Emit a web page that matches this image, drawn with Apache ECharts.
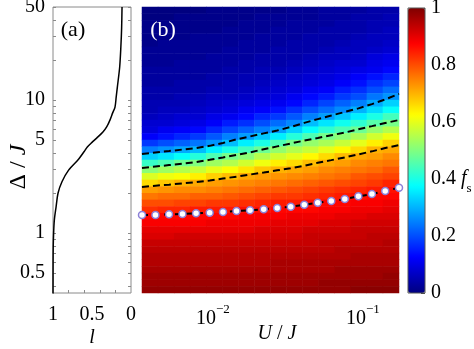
<!DOCTYPE html>
<html><head><meta charset="utf-8">
<script src="https://cdn.jsdelivr.net/npm/echarts@6/dist/echarts.min.js"></script>
<style>html,body{margin:0;padding:0;background:#fff}#c{width:474px;height:349px}</style>
</head><body><div id="c"></div>
<script>
const SERIF = '"Liberation Serif","Times New Roman",serif';
const lg = Math.log10;

// ---- panel (a): l versus Delta/J ----
const aDelta = [0.35,0.6,0.8,1.0,1.25,1.58,2.0,2.43,2.97,3.6,4.1,4.43,4.8,5.17,5.74,6.3,7.06,8.0,8.85,10.5,12.5,17.7,25,35,50];
const aL     = [1.0,0.999,0.997,0.992,0.983,0.96,0.935,0.885,0.80,0.67,0.60,0.56,0.50,0.44,0.36,0.31,0.27,0.235,0.205,0.19,0.175,0.145,0.13,0.12,0.115];

// ---- panel (b): contour lines (Delta/J at each U/J) ----
const uPts = [0.00375,0.00461,0.00568,0.00698,0.0086,0.0106,0.013,0.016,0.0197,0.0243,0.0299,0.0368,0.0453,0.0557,0.0686,0.0844,0.104,0.128,0.157,0.194];
const contour1 = [3.93,4.03,4.13,4.24,4.35,4.52,4.75,5.06,5.32,5.61,5.89,6.27,6.73,7.18,7.64,8.13,8.65,9.31,10.1,11.1];
const contour2 = [3.08,3.16,3.24,3.32,3.41,3.55,3.70,3.86,4.04,4.26,4.48,4.71,4.95,5.18,5.43,5.69,6.03,6.36,6.71,7.07];
const contour3 = [2.22,2.27,2.31,2.36,2.41,2.48,2.57,2.65,2.75,2.85,2.96,3.07,3.20,3.37,3.53,3.70,3.90,4.11,4.35,4.58];
const circleDelta = [1.365,1.365,1.381,1.39,1.406,1.42,1.438,1.463,1.48,1.506,1.541,1.574,1.63,1.69,1.738,1.799,1.887,1.963,2.069,2.19];

// ---- panel (b): f_s map, one column per U/J cell, rows from top (Delta=50) to bottom ----
const fsCols = [
[0.00,0.00,0.01,0.01,0.01,0.01,0.02,0.02,0.02,0.03,0.03,0.03,0.04,0.04,0.05,0.05,0.06,0.08,0.09,0.12,0.18,0.25,0.33,0.43,0.51,0.59,0.66,0.72,0.76,0.80,0.83,0.87,0.88,0.90,0.91,0.93,0.94,0.95,0.95,0.96,0.97,0.97,0.98],
[0.00,0.00,0.01,0.01,0.01,0.02,0.02,0.02,0.02,0.03,0.03,0.03,0.04,0.04,0.05,0.06,0.07,0.08,0.11,0.14,0.20,0.27,0.35,0.45,0.53,0.61,0.68,0.73,0.77,0.80,0.84,0.87,0.88,0.90,0.91,0.93,0.94,0.95,0.95,0.96,0.97,0.97,0.98],
[0.00,0.01,0.01,0.01,0.01,0.02,0.02,0.02,0.03,0.03,0.03,0.04,0.04,0.05,0.05,0.06,0.08,0.09,0.12,0.16,0.22,0.29,0.38,0.48,0.55,0.62,0.70,0.74,0.77,0.81,0.84,0.87,0.88,0.90,0.92,0.93,0.94,0.95,0.95,0.96,0.97,0.97,0.98],
[0.00,0.01,0.01,0.01,0.02,0.02,0.02,0.02,0.03,0.03,0.03,0.04,0.04,0.05,0.06,0.07,0.08,0.10,0.13,0.18,0.24,0.31,0.41,0.50,0.57,0.64,0.71,0.74,0.78,0.81,0.85,0.87,0.88,0.90,0.92,0.93,0.94,0.95,0.95,0.96,0.97,0.97,0.98],
[0.01,0.01,0.01,0.01,0.02,0.02,0.02,0.03,0.03,0.03,0.04,0.04,0.05,0.06,0.07,0.08,0.10,0.12,0.16,0.21,0.27,0.36,0.45,0.53,0.60,0.67,0.72,0.75,0.78,0.82,0.85,0.87,0.89,0.90,0.92,0.93,0.94,0.95,0.95,0.96,0.97,0.97,0.98],
[0.01,0.01,0.01,0.02,0.02,0.02,0.03,0.03,0.03,0.04,0.04,0.05,0.05,0.06,0.08,0.09,0.11,0.15,0.19,0.25,0.31,0.40,0.49,0.55,0.62,0.69,0.73,0.76,0.79,0.82,0.85,0.87,0.89,0.90,0.92,0.93,0.94,0.95,0.95,0.96,0.97,0.97,0.98],
[0.01,0.01,0.02,0.02,0.02,0.03,0.03,0.03,0.04,0.04,0.05,0.05,0.06,0.07,0.09,0.11,0.13,0.17,0.22,0.28,0.36,0.44,0.51,0.58,0.65,0.71,0.74,0.77,0.80,0.83,0.86,0.88,0.89,0.90,0.92,0.93,0.94,0.95,0.95,0.96,0.97,0.97,0.98],
[0.01,0.02,0.02,0.02,0.03,0.03,0.03,0.04,0.04,0.05,0.05,0.06,0.07,0.08,0.10,0.12,0.16,0.20,0.25,0.32,0.40,0.48,0.55,0.61,0.68,0.72,0.75,0.78,0.81,0.84,0.86,0.88,0.89,0.91,0.92,0.93,0.94,0.95,0.95,0.96,0.97,0.97,0.98],
[0.01,0.02,0.02,0.03,0.03,0.03,0.04,0.04,0.04,0.05,0.06,0.07,0.08,0.09,0.11,0.14,0.18,0.23,0.28,0.36,0.45,0.52,0.58,0.64,0.70,0.73,0.76,0.79,0.82,0.85,0.87,0.88,0.90,0.91,0.92,0.93,0.94,0.95,0.96,0.96,0.97,0.97,0.98],
[0.02,0.02,0.03,0.03,0.03,0.04,0.04,0.04,0.05,0.06,0.07,0.08,0.09,0.11,0.13,0.17,0.21,0.26,0.33,0.41,0.49,0.55,0.60,0.66,0.71,0.74,0.77,0.80,0.82,0.85,0.87,0.89,0.90,0.91,0.92,0.93,0.94,0.95,0.96,0.96,0.97,0.97,0.98],
[0.02,0.02,0.03,0.03,0.04,0.04,0.04,0.05,0.06,0.07,0.08,0.09,0.11,0.13,0.16,0.20,0.25,0.31,0.38,0.45,0.52,0.57,0.63,0.69,0.72,0.75,0.78,0.81,0.83,0.86,0.87,0.89,0.90,0.92,0.93,0.93,0.94,0.95,0.96,0.96,0.97,0.97,0.98],
[0.03,0.03,0.03,0.04,0.04,0.04,0.05,0.06,0.07,0.08,0.09,0.10,0.12,0.15,0.19,0.23,0.28,0.35,0.42,0.49,0.54,0.60,0.66,0.71,0.74,0.76,0.79,0.82,0.84,0.87,0.88,0.89,0.91,0.92,0.93,0.94,0.94,0.95,0.96,0.96,0.97,0.98,0.98],
[0.03,0.03,0.04,0.04,0.04,0.05,0.06,0.06,0.08,0.09,0.10,0.12,0.15,0.18,0.22,0.26,0.32,0.39,0.45,0.51,0.57,0.63,0.69,0.72,0.75,0.77,0.80,0.83,0.85,0.87,0.88,0.90,0.91,0.92,0.93,0.94,0.95,0.95,0.96,0.97,0.97,0.98,0.98],
[0.03,0.04,0.04,0.04,0.05,0.06,0.06,0.07,0.08,0.10,0.12,0.14,0.17,0.20,0.25,0.30,0.36,0.42,0.48,0.54,0.60,0.66,0.71,0.74,0.76,0.79,0.81,0.84,0.86,0.88,0.89,0.90,0.92,0.93,0.93,0.94,0.95,0.96,0.96,0.97,0.97,0.98,0.99],
[0.04,0.04,0.05,0.05,0.06,0.06,0.07,0.09,0.10,0.11,0.14,0.17,0.20,0.24,0.29,0.34,0.40,0.46,0.52,0.58,0.64,0.70,0.72,0.75,0.77,0.80,0.82,0.85,0.87,0.88,0.89,0.91,0.92,0.93,0.94,0.94,0.95,0.96,0.96,0.97,0.97,0.98,0.99],
[0.04,0.05,0.05,0.06,0.06,0.07,0.08,0.10,0.11,0.13,0.16,0.19,0.23,0.27,0.33,0.38,0.44,0.49,0.55,0.61,0.67,0.71,0.74,0.76,0.79,0.81,0.84,0.86,0.87,0.89,0.90,0.91,0.92,0.93,0.94,0.95,0.95,0.96,0.96,0.97,0.98,0.98,0.99]
];

// ---- axes ----
const deltaRange = [0.354, 50];
const uRange = [0.00375, 0.194];
const deltaTicks = [0.5, 1, 5, 10, 50];
const deltaMinor = [0.4,0.5,0.6,0.7,0.8,0.9,1,2,3,4,5,6,7,8,9,10,20,30,40,50];
const uTicks = [0.01, 0.1];
const uExp = ['\u22122', '\u22121'];
const lTicks = [0, 0.5, 1];
const lMinor = [0.2, 0.4, 0.6, 0.8];
const fsTicks = [0, 0.2, 0.4, 0.6, 0.8, 1];
const jet = ['#000080','#0000FF','#0080FF','#00FFFF','#80FF80','#FFFF00','#FF8000','#FF0000','#800000'];

const nRows = fsCols[0].length;
const heatData = [];
fsCols.forEach((col, j) => col.forEach((v, r) => heatData.push([j, nRows - 1 - r, v])));

const labelFont = { fontFamily: SERIF, fontSize: 20, color: '#000' };
const findTick = (v, arr) => arr.reduce((b, t) => Math.abs(lg(t) - v) < Math.abs(lg(b) - v) ? t : b, arr[0]);
const noLine = { show: false, onZero: false };

const chart = echarts.init(document.getElementById('c'), null, { renderer: 'canvas' });
chart.setOption({
  animation: false,
  backgroundColor: '#fff',
  grid: [
    { left: 53, top: 7, width: 78, height: 286, show: true, borderColor: '#8a8a8a', borderWidth: 1, outerBoundsMode: 'none', containLabel: false },
    { left: 142, top: 7, width: 257, height: 286, outerBoundsMode: 'none', containLabel: false },
    { left: 142, top: 7, width: 257, height: 286, outerBoundsMode: 'none', containLabel: false },
    { left: 408, top: 8, width: 17, height: 285, outerBoundsMode: 'none', containLabel: false }
  ],
  xAxis: [
    { gridIndex: 0, type: 'value', inverse: true, min: 0, max: 1,
      axisLine: noLine, splitLine: { show: false },
      axisTick: { inside: true, length: 3, lineStyle: { color: '#8a8a8a' }, customValues: lMinor },
      axisLabel: Object.assign({ margin: 12, customValues: lTicks, formatter: v => String(v) }, labelFont) },
    { gridIndex: 1, type: 'category', show: false, axisLine: noLine, data: fsCols.map((_, j) => j) },
    { gridIndex: 2, type: 'value', min: lg(uRange[0]), max: lg(uRange[1]),
      axisLine: noLine, splitLine: { show: false }, axisTick: { show: false },
      axisLabel: { margin: 10, customValues: uTicks.map(lg), padding: [0, 0, 0, 14],
        formatter: v => '{b|10}{e|' + uExp[uTicks.indexOf(findTick(v, uTicks))] + '}',
        rich: { b: { fontFamily: SERIF, fontSize: 20, color: '#000', verticalAlign: 'bottom', lineHeight: 26 },
                e: { fontFamily: SERIF, fontSize: 13, color: '#000', verticalAlign: 'top', lineHeight: 26 } } } },
    { gridIndex: 3, type: 'value', show: false, axisLine: noLine, min: 0, max: 1 }
  ],
  yAxis: [
    { gridIndex: 0, type: 'value', min: lg(deltaRange[0]), max: lg(deltaRange[1]),
      axisLine: noLine, splitLine: { show: false },
      axisTick: { inside: true, length: 3, lineStyle: { color: '#8a8a8a' }, customValues: deltaMinor.map(lg) },
      axisLabel: Object.assign({ margin: 8, customValues: deltaTicks.map(lg), formatter: v => String(findTick(v, deltaTicks)) }, labelFont) },
    { gridIndex: 0, type: 'value', position: 'right', min: lg(deltaRange[0]), max: lg(deltaRange[1]),
      axisLine: noLine, splitLine: { show: false }, axisLabel: { show: false },
      axisTick: { inside: true, length: 3, lineStyle: { color: '#8a8a8a' }, customValues: deltaMinor.map(lg) } },
    { gridIndex: 1, type: 'category', show: false, axisLine: noLine, data: fsCols[0].map((_, r) => r) },
    { gridIndex: 2, type: 'value', show: false, axisLine: noLine, min: lg(deltaRange[0]), max: lg(deltaRange[1]) },
    { gridIndex: 3, type: 'value', position: 'right', min: 0, max: 1, interval: 0.2,
      axisLine: noLine, splitLine: { show: false },
      axisTick: { inside: true, length: 4, lineStyle: { color: '#444' } },
      axisLabel: Object.assign({ margin: 6, customValues: fsTicks, formatter: v => String(+v.toFixed(1)) }, labelFont) }
  ],
  visualMap: {
    type: 'continuous', min: 0, max: 1, seriesIndex: 0, dimension: 2,
    calculable: false, hoverLink: false, orient: 'vertical',
    left: 408, top: 8, itemWidth: 17, itemHeight: 285, padding: 0,
    inRange: { color: jet }
  },
  series: [
    { type: 'heatmap', xAxisIndex: 1, yAxisIndex: 2, data: heatData, progressive: 0,
      emphasis: { disabled: true }, z: 1 },
    { type: 'line', xAxisIndex: 2, yAxisIndex: 3, symbol: 'none', z: 3, silent: true,
      data: uPts.map((u, i) => [lg(u), lg(contour1[i])]),
      lineStyle: { color: '#000', width: 2, type: [7, 4] } },
    { type: 'line', xAxisIndex: 2, yAxisIndex: 3, symbol: 'none', z: 3, silent: true,
      data: uPts.map((u, i) => [lg(u), lg(contour2[i])]),
      lineStyle: { color: '#000', width: 2, type: [7, 4] } },
    { type: 'line', xAxisIndex: 2, yAxisIndex: 3, symbol: 'none', z: 3, silent: true,
      data: uPts.map((u, i) => [lg(u), lg(contour3[i])]),
      lineStyle: { color: '#000', width: 2, type: [7, 4] } },
    { type: 'line', xAxisIndex: 2, yAxisIndex: 3, z: 4, silent: true, clip: false,
      data: uPts.map((u, i) => [lg(u), lg(circleDelta[i])]),
      symbol: 'circle', symbolSize: 7, showAllSymbol: true,
      itemStyle: { color: '#fff', borderColor: '#8c80d8', borderWidth: 1.5 },
      lineStyle: { color: '#000', width: 2, type: [6, 5] } },
    { type: 'line', xAxisIndex: 0, yAxisIndex: 0, symbol: 'none', smooth: 0.3, silent: true,
      data: aDelta.map((d, i) => [aL[i], lg(d)]),
      lineStyle: { color: '#000', width: 1.5 } }
  ],
  graphic: [
    { type: 'rect', shape: { x: 408, y: 8, width: 17, height: 285 }, style: { fill: 'none', stroke: '#555', lineWidth: 1 }, z: 100, silent: true },
    { type: 'text', x: 73, y: 30, style: { text: '(a)', font: '22px ' + SERIF, fill: '#000', align: 'center', verticalAlign: 'middle', textAlign: 'center', textVerticalAlign: 'middle' }, z: 100 },
    { type: 'text', x: 163, y: 30, style: { text: '(b)', font: '22px ' + SERIF, fill: '#fff', align: 'center', verticalAlign: 'middle', textAlign: 'center', textVerticalAlign: 'middle' }, z: 100 },
    { type: 'text', x: 19, y: 167, rotation: Math.PI / 2, z: 100,
      style: { text: '{n|\u0394 / }{i|J}', align: 'center', verticalAlign: 'middle', textAlign: 'center', textVerticalAlign: 'middle',
        rich: { n: { fontFamily: SERIF, fontSize: 24, color: '#000' }, i: { fontFamily: SERIF, fontSize: 24, fontStyle: 'italic', color: '#000' } } } },
    { type: 'text', x: 92, y: 338, z: 100,
      style: { text: 'l', font: 'italic 20px ' + SERIF, fill: '#000', align: 'center', verticalAlign: 'middle', textAlign: 'center', textVerticalAlign: 'middle' } },
    { type: 'text', x: 277, y: 334, z: 100,
      style: { text: '{i|U} / {i|J}', align: 'center', verticalAlign: 'middle', textAlign: 'center', textVerticalAlign: 'middle', font: '20px ' + SERIF, fill: '#000',
        rich: { i: { fontFamily: SERIF, fontSize: 20, fontStyle: 'italic', color: '#000' } } } },
    { type: 'text', x: 461, y: 182, z: 100,
      style: { text: '{f|f}{s|s}', align: 'left', verticalAlign: 'middle', textAlign: 'left', textVerticalAlign: 'middle',
        rich: { f: { fontFamily: SERIF, fontSize: 20, fontStyle: 'italic', color: '#000', verticalAlign: 'top', lineHeight: 26 },
                s: { fontFamily: SERIF, fontSize: 13, color: '#000', verticalAlign: 'bottom', lineHeight: 26 } } } }
  ]
});
</script>
</body></html>
